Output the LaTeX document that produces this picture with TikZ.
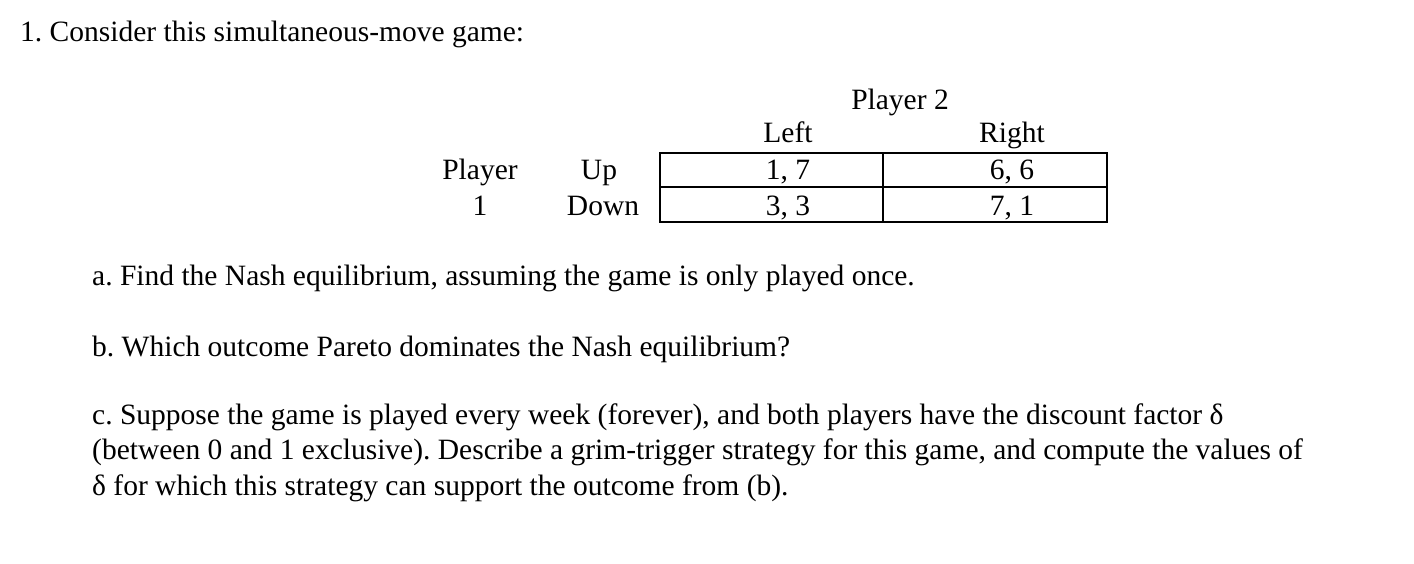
\documentclass[tikz,border=0pt]{standalone}
\usepackage{fontspec}
\setmainfont{Liberation Serif}
\frenchspacing
\begin{document}
\begin{tikzpicture}[x=1pt,y=-1pt,
  txt/.style={inner sep=0pt,anchor=base west,font=\fontsize{29.5}{34}\selectfont},
  ctxt/.style={inner sep=0pt,anchor=base,font=\fontsize{29.5}{34}\selectfont},
  grid/.style={line width=1.3pt}]
\useasboundingbox[fill=white] (0,0) rectangle (1414,564);
\node[txt] (t0) at (20,42) {1. Consider this simultaneous-move game:};
\node[ctxt] (p2) at (900,110) {Player 2};
\node[ctxt] (l) at (788,143) {Left};
\node[ctxt] (r) at (1012,143) {Right};
\node[ctxt] (p1a) at (480,180) {Player};
\node[ctxt] (p1b) at (480,216) {1};
\node[ctxt] (up) at (599,180) {Up};
\node[ctxt] (dn) at (603,216) {Down};
\coordinate (tl) at (660,153);
\coordinate (br) at (1107,222);
\draw[grid] (tl) rectangle (br);
\draw[grid] (660,187) -- (1107,187);
\draw[grid] (883,153) -- (883,222);
\node[ctxt] (c11) at (788,180) {1, 7};
\node[ctxt] (c12) at (1012,180) {6, 6};
\node[ctxt] (c21) at (788,216) {3, 3};
\node[ctxt] (c22) at (1012,216) {7, 1};
\node[txt] (a) at (92,286) {a. Find the Nash equilibrium, assuming the game is only played once.};
\node[txt] (b) at (92,356) {b. Which outcome Pareto dominates the Nash equilibrium?};
\node[txt] (c1) at (92,424) {c. Suppose the game is played every week (forever), and both players have the discount factor δ};
\node[txt] (c2) at (92,459) {(between 0 and 1 exclusive). Describe a grim-trigger strategy for this game, and compute the values of};
\node[txt] (c3) at (92,495) {δ for which this strategy can support the outcome from (b).};
\end{tikzpicture}
\end{document}
